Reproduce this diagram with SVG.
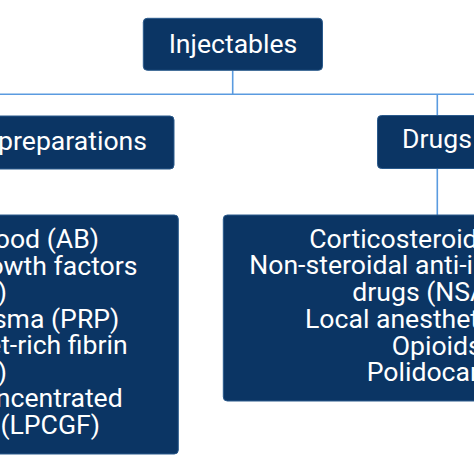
<svg xmlns="http://www.w3.org/2000/svg" width="474" height="474" viewBox="0 0 474 474">
<style>
.box{fill:#0b3564;stroke:#2a5a8c;stroke-width:1}
.t{font-family:Roboto,"Liberation Sans",sans-serif;font-size:26.6px;fill:#ffffff}
.e{text-anchor:end}
.m{text-anchor:middle}
.c{fill:none;stroke:#5a9be0;stroke-width:1.6}
</style>
<rect width="474" height="474" fill="#ffffff"/>
<g id="connectors">
<path class="c" d="M232.7 70.5V94.3M0 94.3H474M437.3 94.3V116M437.3 168.5V215"/>
</g>
<g id="injectables">
<rect class="box" x="143.3" y="18.3" width="179.2" height="52" rx="4"/>
<text class="t m" x="233" y="52.5">Injectables</text>
</g>
<g id="preparations">
<rect class="box" x="-240" y="116" width="414" height="53" rx="4"/>
<text class="t e" x="147" y="150">preparations</text>
</g>
<g id="drugs">
<rect class="box" x="377.5" y="115.5" width="120" height="53" rx="4"/>
<text class="t m" x="437" y="147.5">Drugs</text>
</g>
<g id="preparations-list">
<rect class="box" x="-240" y="215" width="418.3" height="239" rx="4"/>
<text class="t e" x="99" y="248.3">Autologous blood (AB)</text>
<text class="t e" x="137.5" y="274.8">Plasma rich in growth factors</text>
<text class="t e" x="7" y="301.3">(PRGF)</text>
<text class="t e" x="119.3" y="327.8">Platelet-rich plasma (PRP)</text>
<text class="t e" x="127.7" y="354.3">Platelet-rich fibrin</text>
<text class="t e" x="7" y="380.8">(PRF)</text>
<text class="t e" x="122.7" y="407.3">Liquid phase concentrated</text>
<text class="t e" x="100" y="433.8">growth factors (LPCGF)</text>
</g>
<g id="drugs-list">
<rect class="box" x="223.3" y="215" width="428" height="186" rx="4"/>
<text class="t" x="309.3" y="247.7">Corticosteroids</text>
<text class="t" x="249.3" y="274.4">Non-steroidal anti-inflammatory</text>
<text class="t" x="352.3" y="301.1">drugs (NSAIDs)</text>
<text class="t" x="305" y="327.8">Local anesthetics</text>
<text class="t" x="391.7" y="354.5">Opioids</text>
<text class="t" x="366.7" y="381.2">Polidocanol</text>
</g>
</svg>
